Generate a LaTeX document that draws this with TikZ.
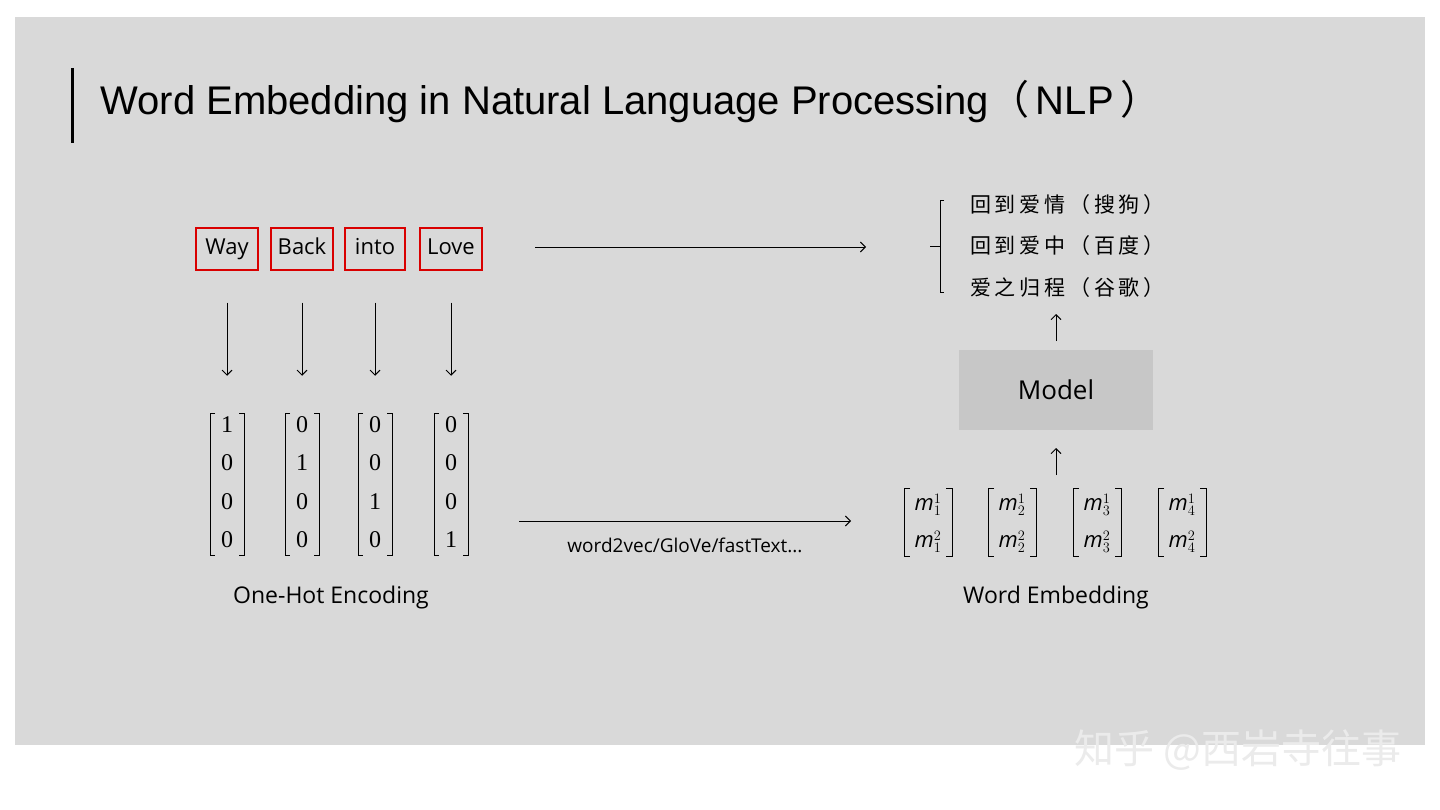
\documentclass[tikz,border=0pt]{standalone}
\usepackage{fontspec}
\setmainfont{Open Sans}
\newfontfamily\titlefont{Liberation Sans}
\newfontfamily\cjk[LetterSpace=18]{Noto Sans CJK SC}
\newfontfamily\wmfont{Noto Sans CJK SC}
\newfontfamily\tcjk{Noto Sans CJK SC}
\newfontfamily\serif{Liberation Serif}
\usetikzlibrary{arrows.meta}
\begin{document}
\begin{tikzpicture}[x=1pt,y=-1pt,
  word/.style={draw=red!85!black,line width=1.5pt,minimum height=42pt,inner sep=0pt,text height=16pt,text depth=5pt,font=\fontsize{22}{24}\selectfont},
  arr/.style={-{Straight Barb[length=5pt,width=10pt]},line width=0.9pt},
  lbl/.style={font=\fontsize{23}{26}\selectfont},
  dig/.style={font=\serif\fontsize{24}{26}\selectfont},
  cn/.style={font=\cjk\fontsize{21}{24}\selectfont,anchor=west,inner sep=0pt}]
\useasboundingbox (0,0) rectangle (1440,810);
\fill[white] (0,0) rectangle (1440,810);
\fill[black!15] (15,17) rectangle (1425,745);
\draw[line width=3pt] (72,68) -- (72,143);
\node[anchor=west,font=\titlefont\fontsize{40}{44}\selectfont] (title) at (97,102) {Word Embedding in Natural Language Processing{\tcjk （}\,NLP\,{\tcjk ）}};
% words
\node[word,minimum width=62pt] (w1) at (227,249) {Way};
\node[word,minimum width=62pt] (w2) at (302,249) {Back};
\node[word,minimum width=60pt] (w3) at (375,249) {into};
\node[word,minimum width=62pt] (w4) at (451,249) {Love};
% one-hot vectors
\foreach \i/\x/\v in {1/227/{1,0,0,0},2/302/{0,1,0,0},3/375/{0,0,1,0},4/451/{0,0,0,1}}{
  \coordinate (v\i) at (\x,413);
  \draw[line width=0.9pt] (\x-12,413) -- (\x-17,413) -- (\x-17,555) -- (\x-12,555);
  \draw[line width=0.9pt] (\x+12,413) -- (\x+17,413) -- (\x+17,555) -- (\x+12,555);
  \foreach \d [count=\r] in \v { \node[dig] at (\x,386+38.5*\r) {\d}; }
}
\foreach \i in {1,...,4}{ \draw[arr] ([yshift=-32pt]w\i.south) -- ([yshift=-105pt]w\i.south); }
\node[lbl] (oh) at (331,598) {One-Hot Encoding};
% embeddings
\foreach \i/\x in {1/928,2/1012,3/1097,4/1182}{
  \coordinate (e\i) at (\x,488);
  \draw[line width=0.9pt] (\x-18,488) -- (\x-24,488) -- (\x-24,556) -- (\x-18,556);
  \draw[line width=0.9pt] (\x+18,488) -- (\x+24,488) -- (\x+24,556) -- (\x+18,556);
  \node[font=\serif\fontsize{22}{24}\selectfont] at (\x,505) {$\mathit{m}_{\i}^{1}$};
  \node[font=\serif\fontsize{22}{24}\selectfont] at (\x,542) {$\mathit{m}_{\i}^{2}$};
}
\node[lbl] (we) at (1056,598) {Word Embedding};
% model
\node[fill=black!22,minimum width=194pt,minimum height=80pt,font=\fontsize{26}{30}\selectfont] (model) at (1056,390) {Model};
\coordinate (emtop) at (1056,475);
\coordinate (outbot) at (1056,341);
\coordinate (outtop) at (1056,314);
\coordinate (mtop) at (1056,448);
\draw[arr] (emtop) -- (mtop);
\draw[arr] (outbot) -- (outtop);
% outputs
\node[cn] (o1) at (970,205) {回到爱情（搜狗）};
\node[cn] (o2) at (970,246) {回到爱中（百度）};
\node[cn] (o3) at (970,288) {爱之归程（谷歌）};
\draw[line width=0.9pt] (944,200) -- (940,200) -- (940,292) -- (944,292);
\draw[line width=0.9pt] (930,246) -- (940,246);
% horizontal arrows
\coordinate (h1a) at (535,247); \coordinate (h1b) at (866,247);
\draw[arr] (h1a) -- (h1b);
\coordinate (h2a) at (519,521); \coordinate (h2b) at (851,521);
\draw[arr] (h2a) -- (h2b);
\node[font=\fontsize{19}{22}\selectfont] (w2v) at (685,545) {word2vec/GloVe/fastText...};
% watermark
\node[font=\wmfont\fontsize{40}{44}\selectfont,text=black!8,anchor=east] (wm) at (1405,750) {知乎 @西岩寺往事};
\end{tikzpicture}
\end{document}
